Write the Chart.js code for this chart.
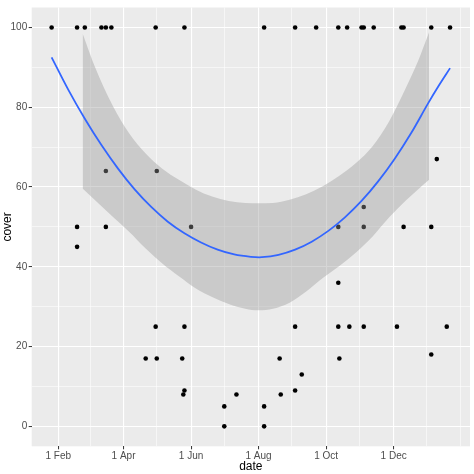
<!DOCTYPE html>
<html>
<head>
<meta charset="utf-8">
<script src="https://cdn.jsdelivr.net/npm/chart.js@4/dist/chart.umd.min.js"></script>
<style>
  html, body { margin: 0; padding: 0; background: #fff; }
  #wrap { width: 474px; height: 474px; }
</style>
</head>
<body>
<div id="wrap"><canvas id="chart" width="474" height="474"></canvas></div>
<script>
// x values are days since 1 Jan (1 Feb = 31)
const tickDates = [31, 90, 151, 212, 273, 334];
const tickLabels = ['1 Feb', '1 Apr', '1 Jun', '1 Aug', '1 Oct', '1 Dec'];
const minorDates = [60, 120, 181, 242, 303, 364, 394];
const yMajor = [0, 20, 40, 60, 80, 100];
const yMinor = [10, 30, 50, 70, 90];

// observations
const pointDates = [25, 48, 55, 70, 74, 79, 119, 145, 217, 245, 264, 284, 292, 305, 307, 316, 341, 343, 368, 385,
                    74, 120,
                    48, 74, 151, 284, 307, 343, 368,
                    307, 373, 48, 284,
                    119, 145, 245, 284, 294, 307, 337, 382,
                    368,
                    110, 120, 143, 231, 285,
                    251, 145, 245,
                    144, 192, 232,
                    181, 217, 181, 217];
const pointCover = [100, 100, 100, 100, 100, 100, 100, 100, 100, 100, 100, 100, 100, 100, 100, 100, 100, 100, 100, 100,
                    64, 64,
                    50, 50, 50, 50, 50, 50, 50,
                    55, 67, 45, 36,
                    25, 25, 25, 25, 25, 25, 25, 25,
                    18,
                    17, 17, 17, 17, 17,
                    13, 9, 9,
                    8, 8, 8,
                    5, 5, 0, 0];

// smooth line
const fitDates = [25, 40, 55, 70, 85, 100, 115, 130, 145, 160, 175, 190, 205, 215, 230, 245, 260, 275, 290, 305, 320, 335, 350, 365, 375, 385];
const fitCover = [92.5, 84.4, 77.1, 70.5, 64.6, 59.4, 55.0, 51.3, 48.4, 46.1, 44.3, 43.1, 42.5, 42.4, 43.0, 44.3, 46.3, 49.0, 52.4, 56.5, 61.4, 67.1, 73.6, 80.9, 85.5, 89.8];

// confidence band
const bandDates = [53, 65, 80, 95, 110, 125, 140, 155, 170, 185, 200, 212, 225, 240, 255, 270, 285, 300, 315, 330, 345, 356, 366];
const bandLower = [59.6, 56.5, 52.6, 48.8, 44.6, 40.8, 37.6, 34.6, 32.4, 30.7, 29.5, 29.1, 29.5, 31.0, 33.8, 37.2, 40.2, 43.6, 47.6, 52.4, 56.6, 59.4, 61.8];
const bandUpper = [98.5, 89.5, 80.5, 73.5, 68.4, 64.6, 61.8, 59.4, 57.6, 56.5, 56.0, 55.9, 56.0, 56.8, 58.2, 60.2, 62.8, 66.0, 70.2, 76.5, 84.8, 91.5, 98.8];

const zip = (xs, ys) => xs.map((x, i) => ({ x: x, y: ys[i] }));
const FONT = '"Liberation Sans", Arial, sans-serif';

const panelBg = {
    id: 'panelBg',
    beforeDraw(chart) {
        const c = chart.ctx, a = chart.chartArea;
        c.save();
        c.fillStyle = '#ffffff';
        c.fillRect(0, 0, chart.width, chart.height);
        c.fillStyle = '#EBEBEB';
        c.fillRect(a.left, a.top, a.right - a.left, a.bottom - a.top);
        c.restore();
    }
};

const isMajorX = (ctx) => ctx.tick && tickDates.includes(ctx.tick.value);
const isMajorY = (ctx) => ctx.tick && yMajor.includes(ctx.tick.value);

new Chart(document.getElementById('chart'), {
    type: 'scatter',
    data: {
        datasets: [
            {
                type: 'line',
                data: zip(fitDates, fitCover),
                borderColor: '#3366FF',
                borderWidth: 1.8,
                pointRadius: 0,
                tension: 0.35,
                fill: false,
                order: 1
            },
            {
                type: 'line',
                data: zip(bandDates, bandUpper),
                borderWidth: 0,
                borderColor: 'rgba(0,0,0,0)',
                pointRadius: 0,
                cubicInterpolationMode: 'monotone',
                backgroundColor: 'rgba(153,153,153,0.4)',
                fill: '+1',
                order: 2
            },
            {
                type: 'line',
                data: zip(bandDates, bandLower),
                borderWidth: 0,
                borderColor: 'rgba(0,0,0,0)',
                pointRadius: 0,
                cubicInterpolationMode: 'monotone',
                fill: false,
                order: 2
            },
            {
                data: zip(pointDates, pointCover),
                backgroundColor: '#000000',
                borderWidth: 0,
                pointRadius: 2.3,
                order: 3
            }
        ]
    },
    options: {
        responsive: false,
        animation: false,
        layout: { padding: { top: 2, right: 2.3, left: 0, bottom: 0 } },
        plugins: { legend: { display: false }, tooltip: { enabled: false } },
        scales: {
            x: {
                type: 'linear',
                min: 7,
                max: 403,
                afterBuildTicks: (scale) => {
                    scale.ticks = tickDates.concat(minorDates).sort((a, b) => a - b).map(v => ({ value: v }));
                },
                afterFit: (scale) => { scale.height = 27.7; },
                ticks: {
                    autoSkip: false,
                    maxRotation: 0,
                    padding: 0.5,
                    color: '#4D4D4D',
                    font: { family: FONT, size: 10 },
                    callback: (v) => {
                        const i = tickDates.indexOf(v);
                        return i >= 0 ? tickLabels[i] : '';
                    }
                },
                grid: {
                    color: '#FFFFFF',
                    lineWidth: (ctx) => isMajorX(ctx) ? 1.1 : 0.55,
                    tickColor: (ctx) => isMajorX(ctx) ? '#333333' : 'rgba(0,0,0,0)',
                    tickLength: 3,
                    tickWidth: 1
                },
                border: { display: false },
                title: {
                    display: true,
                    text: 'date',
                    color: '#000000',
                    font: { family: FONT, size: 12 },
                    padding: { top: 0, bottom: 0.3 }
                }
            },
            y: {
                min: -5,
                max: 105,
                afterBuildTicks: (scale) => {
                    scale.ticks = yMajor.concat(yMinor).sort((a, b) => a - b).map(v => ({ value: v }));
                },
                afterFit: (scale) => { scale.width = 31.7; },
                ticks: {
                    autoSkip: false,
                    padding: 1.5,
                    color: '#4D4D4D',
                    font: { family: FONT, size: 10 },
                    callback: (v) => yMajor.includes(v) ? String(v) : ''
                },
                grid: {
                    color: '#FFFFFF',
                    lineWidth: (ctx) => isMajorY(ctx) ? 1.1 : 0.55,
                    tickColor: (ctx) => isMajorY(ctx) ? '#333333' : 'rgba(0,0,0,0)',
                    tickLength: 3,
                    tickWidth: 1
                },
                border: { display: false },
                title: {
                    display: true,
                    text: 'cover',
                    color: '#000000',
                    font: { family: FONT, size: 12 },
                    padding: { top: 0.8, bottom: 0 }
                }
            }
        }
    },
    plugins: [panelBg]
});
</script>
</body>
</html>
